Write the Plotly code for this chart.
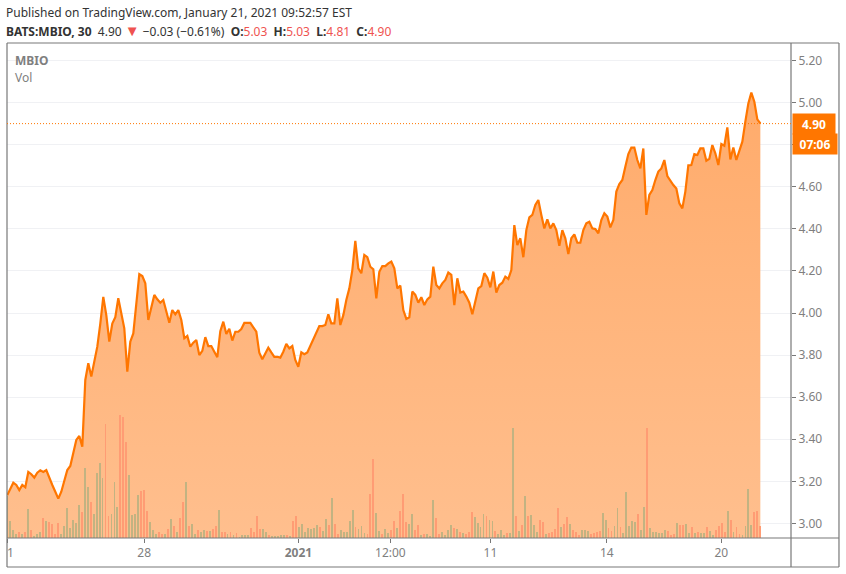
import numpy as np
import plotly.graph_objects as go

# MBIO 30 minute closes
price = [
    3.135, 3.167, 3.194, 3.183, 3.159, 3.183, 3.172, 3.245, 3.234, 3.218,
    3.241, 3.253, 3.245, 3.254, 3.215, 3.183, 3.151, 3.118, 3.151, 3.207,
    3.254, 3.273, 3.341, 3.397, 3.416, 3.365, 3.682, 3.761, 3.698, 3.769,
    3.84, 3.95, 4.077, 3.99, 3.864, 3.95, 3.98, 4.07, 4.006, 3.927,
    3.721, 3.864, 3.903, 4.03, 4.185, 4.176, 4.141, 3.967, 4.022, 4.086,
    4.065, 4.049, 4.062, 4.014, 3.954, 4.014, 3.994, 4.014, 3.967, 3.88,
    3.891, 3.84, 3.859, 3.872, 3.80, 3.82, 3.885, 3.843, 3.843, 3.816,
    3.79, 3.914, 3.959, 3.90, 3.925, 3.869, 3.911, 3.911, 3.924, 3.953,
    3.953, 3.953, 3.932, 3.911, 3.811, 3.78, 3.808, 3.835, 3.813, 3.792,
    3.792, 3.788, 3.816, 3.853, 3.832, 3.843, 3.777, 3.745, 3.813, 3.804,
    3.813, 3.845, 3.869, 3.904, 3.938, 3.938, 3.943, 3.994, 3.951, 3.951,
    4.07, 3.943, 3.99, 4.062, 4.117, 4.204, 4.343, 4.212, 4.189, 4.276,
    4.265, 4.22, 4.208, 4.07, 4.196, 4.223, 4.223, 4.236, 4.244, 4.212,
    4.117, 4.13, 4.014, 3.972, 3.98, 4.102, 4.086, 4.049, 4.075, 4.038,
    4.065, 4.078, 4.22, 4.133, 4.117, 4.141, 4.157, 4.192, 4.181, 4.038,
    4.165, 4.097, 4.102, 4.078, 4.049, 3.994, 4.054, 4.117, 4.128, 4.189,
    4.168, 4.122, 4.197, 4.097, 4.133, 4.144, 4.173, 4.162, 4.204, 4.418,
    4.323, 4.355, 4.265, 4.394, 4.455, 4.466, 4.513, 4.537, 4.466, 4.402,
    4.445, 4.402, 4.426, 4.394, 4.32, 4.394, 4.355, 4.28, 4.355, 4.374,
    4.334, 4.334, 4.394, 4.426, 4.434, 4.402, 4.399, 4.379, 4.442, 4.474,
    4.458, 4.407, 4.442, 4.577, 4.613, 4.632, 4.695, 4.755, 4.786, 4.786,
    4.727, 4.687, 4.782, 4.466, 4.561, 4.584, 4.632, 4.672, 4.687, 4.727,
    4.651, 4.629, 4.608, 4.592, 4.521, 4.497, 4.577, 4.702, 4.703, 4.755,
    4.751, 4.782, 4.782, 4.724, 4.733, 4.798, 4.759, 4.703, 4.803, 4.795,
    4.882, 4.73, 4.786, 4.727, 4.771, 4.814, 4.909, 4.996, 5.047, 5.004,
    4.92, 4.901,
]

volume = [
    42, 17, 8, 4, 6, 4, 6, 29, 8, 2,
    4, 6, 20, 17, 16, 14, 4, 15, 4, 12,
    30, 10, 18, 15, 33, 26, 70, 51, 36, 24,
    65, 75, 60, 114, 22, 24, 56, 31, 123, 121,
    96, 63, 23, 24, 43, 47, 48, 27, 16, 8,
    4, 6, 4, 4, 9, 19, 12, 6, 20, 36,
    56, 12, 14, 4, 8,
    6, 8, 7, 7, 9, 12, 28, 6, 6, 4,
    6, 3, 5, 1, 3, 3, 3, 10, 6, 22,
    9, 9, 6, 3, 2, 2, 2, 3, 3, 3,
    2, 17, 22, 11, 14, 6, 10, 9, 10, 13,
    11, 7, 19, 13, 40, 14, 4, 8, 6, 6,
    17, 28, 11, 9, 12, 5, 4, 44, 79, 25,
    7, 4, 9, 5, 8, 17, 10, 27, 44, 16,
    14, 24, 8, 13, 3, 4, 4, 2, 38, 20,
    4, 6, 3, 8, 13, 10, 9, 6, 5, 4,
    6, 26, 21, 15, 11, 24, 22, 18, 17, 7,
    4, 8, 3, 5, 5, 110, 22, 7,
    13, 42, 22, 23, 13, 6, 18, 16, 4, 5,
    6, 9, 30, 11, 14, 21, 14, 8, 6, 3,
    8, 8, 7, 4, 5, 6, 7, 25, 18, 10,
    7, 12, 30, 11, 5, 46, 12, 17, 16, 24,
    8, 31, 110, 10, 6, 6, 5, 5, 8, 7,
    3, 4, 15, 13, 13, 14, 5, 11, 5, 6,
    5, 5, 11, 7, 3, 8, 12, 15, 6, 27,
    18, 6, 11, 4, 3, 12, 49, 13, 26, 27,
    12,
]

# g = up bar, r = down bar
direction = (
    "ggggrgrgrg" "ggrgrrrrgg" "gggggrggrg" "gggrrgggrr" "rggggrrrgg" "grrgrgrgrr" "grggr"
    "ggrgrrgrrg" "rgrggggrrr" "rggrgggggr" "grrggggggg" "rggrgrrggg" "ggrgggrrrg"
    "grggrrgrrr" "ggrrgrgggr" "rggggrgrgr" "rrggggrggr" "gggrggrg"
    "rgrgggrrgr" "rrrgrrgrrr" "gggrrrrggr" "rggrgggggr" "ggrggggggr" "rrgrrggrgr"
    "ggrggrrrrg" "rgrrggggrr" "r"
)

tick_pos = [0, 46, 97.8, 128.7, 162.3, 201.4, 239.9]
tick_text = ["&nbsp;&nbsp;1", "28", "<b>2021</b>", "12:00", "11", "14", "20"]
# the 4.80 label sits behind the countdown box on the chart
price_ticks = [3.0, 3.2, 3.4, 3.6, 3.8, 4.0, 4.2, 4.4, 4.6, 4.8, 5.0, 5.2]
price_labels = ["3.00", "3.20", "3.40", "3.60", "3.80", "4.00", "4.20", "4.40", "4.60", "", "5.00", "5.20"]
last_price = 4.90

ORANGE = "#ff7600"
GRAY = "#7f7f7f"
FRAME = "#787878"

bar_x = np.arange(len(volume))
# closes were read on a slightly wider grid than the bars
price_x = np.linspace(0, len(volume) - 1, len(price))
bar_colors = ["#c2b382" if d == "g" else "#ff9c74" for d in direction]

fig = go.Figure()

fig.add_trace(go.Scatter(
    x=price_x, y=price, mode="lines",
    line=dict(color=ORANGE, width=2.2),
    fill="tozeroy",
    fillgradient=dict(
        type="vertical", start=5.05, stop=2.93,
        colorscale=[[0, "#ffab6b"], [1, "#ffbf8e"]],
    ),
))

fig.add_trace(go.Bar(
    x=bar_x, y=volume, yaxis="y2",
    marker=dict(color=bar_colors, line=dict(width=0)),
    width=0.3,
))

# pane frame
shapes = [
    dict(type="line", xref="paper", yref="paper", x0=x0, x1=x1, y0=y0, y1=y1,
         line=dict(color=FRAME, width=1.2), layer="above")
    for x0, x1, y0, y1 in [
        (0, 1.0612, 1, 1),
        (0, 1.0612, 0, 0),
        (0, 1.0612, -0.0586, -0.0586),
        (0, 0, -0.0586, 1),
        (1, 1, -0.0586, 1),
        (1.0612, 1.0612, -0.0586, 1),
    ]
]
shapes.append(dict(
    type="line", xref="paper", yref="y", x0=0, x1=1, y0=last_price, y1=last_price,
    line=dict(color=ORANGE, width=1, dash="1px,2px"), layer="above",
))

red = "<span style='color:#ef5350'>%s</span>"
header = (
    "<b>BATS:MBIO, 30</b>  4.90 " + "<span style='color:#ef5350;font-size:15px'>▼</span>"
    + " −0.03 (−0.61%)  "
    + "<b>O:</b>" + red % "5.03" + "  <b>H:</b>" + red % "5.03"
    + "  <b>L:</b>" + red % "4.81" + "  <b>C:</b>" + red % "4.90"
)

annotations = [
    dict(text="Published on TradingView.com, January 21, 2021 09:52:57 EST",
         xref="paper", yref="paper", x=-0.0038, y=1.0626, xanchor="left", yanchor="middle",
         showarrow=False, font=dict(size=12, color="#333333")),
    dict(text=header,
         xref="paper", yref="paper", x=-0.0038, y=1.0263, xanchor="left", yanchor="middle",
         showarrow=False, font=dict(size=12, color="#333333")),
    dict(text="<b>MBIO</b>", xref="paper", yref="paper", x=0.0077, y=0.9646,
         xanchor="left", yanchor="middle", showarrow=False, font=dict(size=12, color=GRAY)),
    dict(text="Vol", xref="paper", yref="paper", x=0.0077, y=0.9303,
         xanchor="left", yanchor="middle", showarrow=False, font=dict(size=12, color=GRAY)),
    dict(text="<b>4.90</b>", xref="paper", yref="y", x=1.0013, y=last_price,
         xanchor="left", yanchor="middle", showarrow=False, width=40, height=18,
         bgcolor=ORANGE, font=dict(size=12, color="white")),
    dict(text="<b>07:06</b>", xref="paper", yref="y", x=1.0013, y=last_price, yshift=-20,
         xanchor="left", yanchor="middle", showarrow=False, width=42, height=18,
         bgcolor=ORANGE, font=dict(size=12, color="white")),
]

fig.update_layout(
    width=846, height=574,
    margin=dict(l=7, r=55, t=43, b=36, autoexpand=False),
    paper_bgcolor="white", plot_bgcolor="white",
    font=dict(family="Noto Sans", size=12, color=GRAY),
    showlegend=False,
    shapes=shapes,
    annotations=annotations,
    xaxis=dict(
        range=[-0.1, 263.3], tickmode="array", tickvals=tick_pos, ticktext=tick_text,
        ticks="outside", ticklen=4, tickcolor=FRAME, showgrid=False, zeroline=False,
        showline=False, tickfont=dict(size=12, color=GRAY),
    ),
    yaxis=dict(
        range=[2.931, 5.283], side="right", tickmode="array",
        tickvals=price_ticks, ticktext=price_labels,
        ticks="outside", ticklen=4, tickcolor=FRAME, gridcolor="#f0f1f4", gridwidth=1,
        zeroline=False, showline=False, tickfont=dict(size=12, color=GRAY),
    ),
    yaxis2=dict(overlaying="y", range=[0, 495], visible=False),
)

fig.write_html("out.html", config=dict(displayModeBar=False),
               post_script="document.body.style.margin='0';")
